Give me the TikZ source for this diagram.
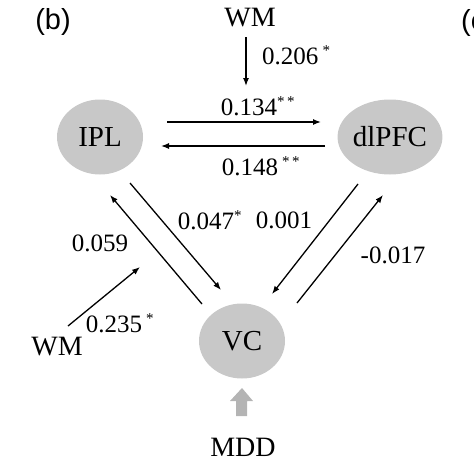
\documentclass[tikz,border=0pt]{standalone}
\usepackage{fontspec}
\setmainfont{Liberation Serif}
\newfontfamily\labelsans{Liberation Sans}
\usetikzlibrary{arrows.meta,shapes.geometric}
\definecolor{nodegray}{RGB}{200,200,200}
\definecolor{blockgray}{RGB}{180,180,180}
\tikzset{
  region/.style={ellipse,fill=nodegray,minimum width=86pt,minimum height=75pt,inner sep=0pt,font=\fontsize{29}{31}\selectfont},
  conn/.style={line width=1.3pt,-{Latex[length=8pt,width=6pt]}},
  coef/.style={inner sep=0pt,font=\fontsize{25}{27}\selectfont},
  outer/.style={inner sep=0pt,font=\fontsize{28}{30}\selectfont},
  panel/.style={inner sep=0pt,font=\labelsans\fontsize{29}{31}\selectfont}
}
\newcommand{\sig}[1]{\textsuperscript{\fontsize{15}{16}\selectfont #1}}
\begin{document}
\begin{tikzpicture}[x=1pt,y=-1pt]
\useasboundingbox (0,0) rectangle (474,474);
% panel labels
\node[panel] (pb) at (53,22) {(b)};
\node[panel,anchor=west] (pc) at (461,23) {(c)};
% regions
\node[region] (ipl) at (100,137) {IPL};
\node[region] (dlpfc) at (390,137) {dlPFC};
\node[region] (vc) at (242,341) {VC};
% outer labels
\node[outer] (wmtop) at (250,18) {WM};
\node[outer] (wmleft) at (57,347) {WM};
\node[outer] (mdd) at (243,447) {MDD};
% coordinates
\coordinate (wmt1) at (246,37);
\coordinate (wmt2) at (246,86);
\coordinate (h1a) at (167,122);
\coordinate (h1b) at (321,122);
\coordinate (h2a) at (325,146);
\coordinate (h2b) at (161,146);
\coordinate (iv1) at (130,183);
\coordinate (iv2) at (221,290);
\coordinate (vi1) at (202,304);
\coordinate (vi2) at (110,195);
\coordinate (dv1) at (358,184);
\coordinate (dv2) at (272,294);
\coordinate (vd1) at (297,303);
\coordinate (vd2) at (383,195);
\coordinate (wl1) at (68,326);
\coordinate (wl2) at (140,267);
% connectors
\draw[conn] (wmt1) -- (wmt2);
\draw[conn] (h1a) -- (h1b);
\draw[conn] (h2a) -- (h2b);
\draw[conn] (iv1) -- (iv2);
\draw[conn] (vi1) -- (vi2);
\draw[conn] (dv1) -- (dv2);
\draw[conn] (vd1) -- (vd2);
\draw[conn] (wl1) -- (wl2);
% block arrow from MDD
\fill[blockgray] (242,388) -- (253,401) -- (247,401) -- (247,416) -- (236,416) -- (236,401) -- (230,401) -- cycle;
% coefficients
\node[coef,anchor=west] (c206) at (262,55) {0.206\,\sig{*}};
\node[coef] (c134) at (258,106) {0.134\sig{*\,*}};
\node[coef] (c148) at (261,166) {0.148\,\sig{*\,*}};
\node[coef] (c047) at (210,220) {0.047\sig{*}};
\node[coef] (c001) at (284,220) {0.001};
\node[coef] (c059) at (100,243) {0.059};
\node[coef] (c017) at (393,255) {-0.017};
\node[coef] (c235) at (120,323) {0.235\,\sig{*}};
\end{tikzpicture}
\end{document}
